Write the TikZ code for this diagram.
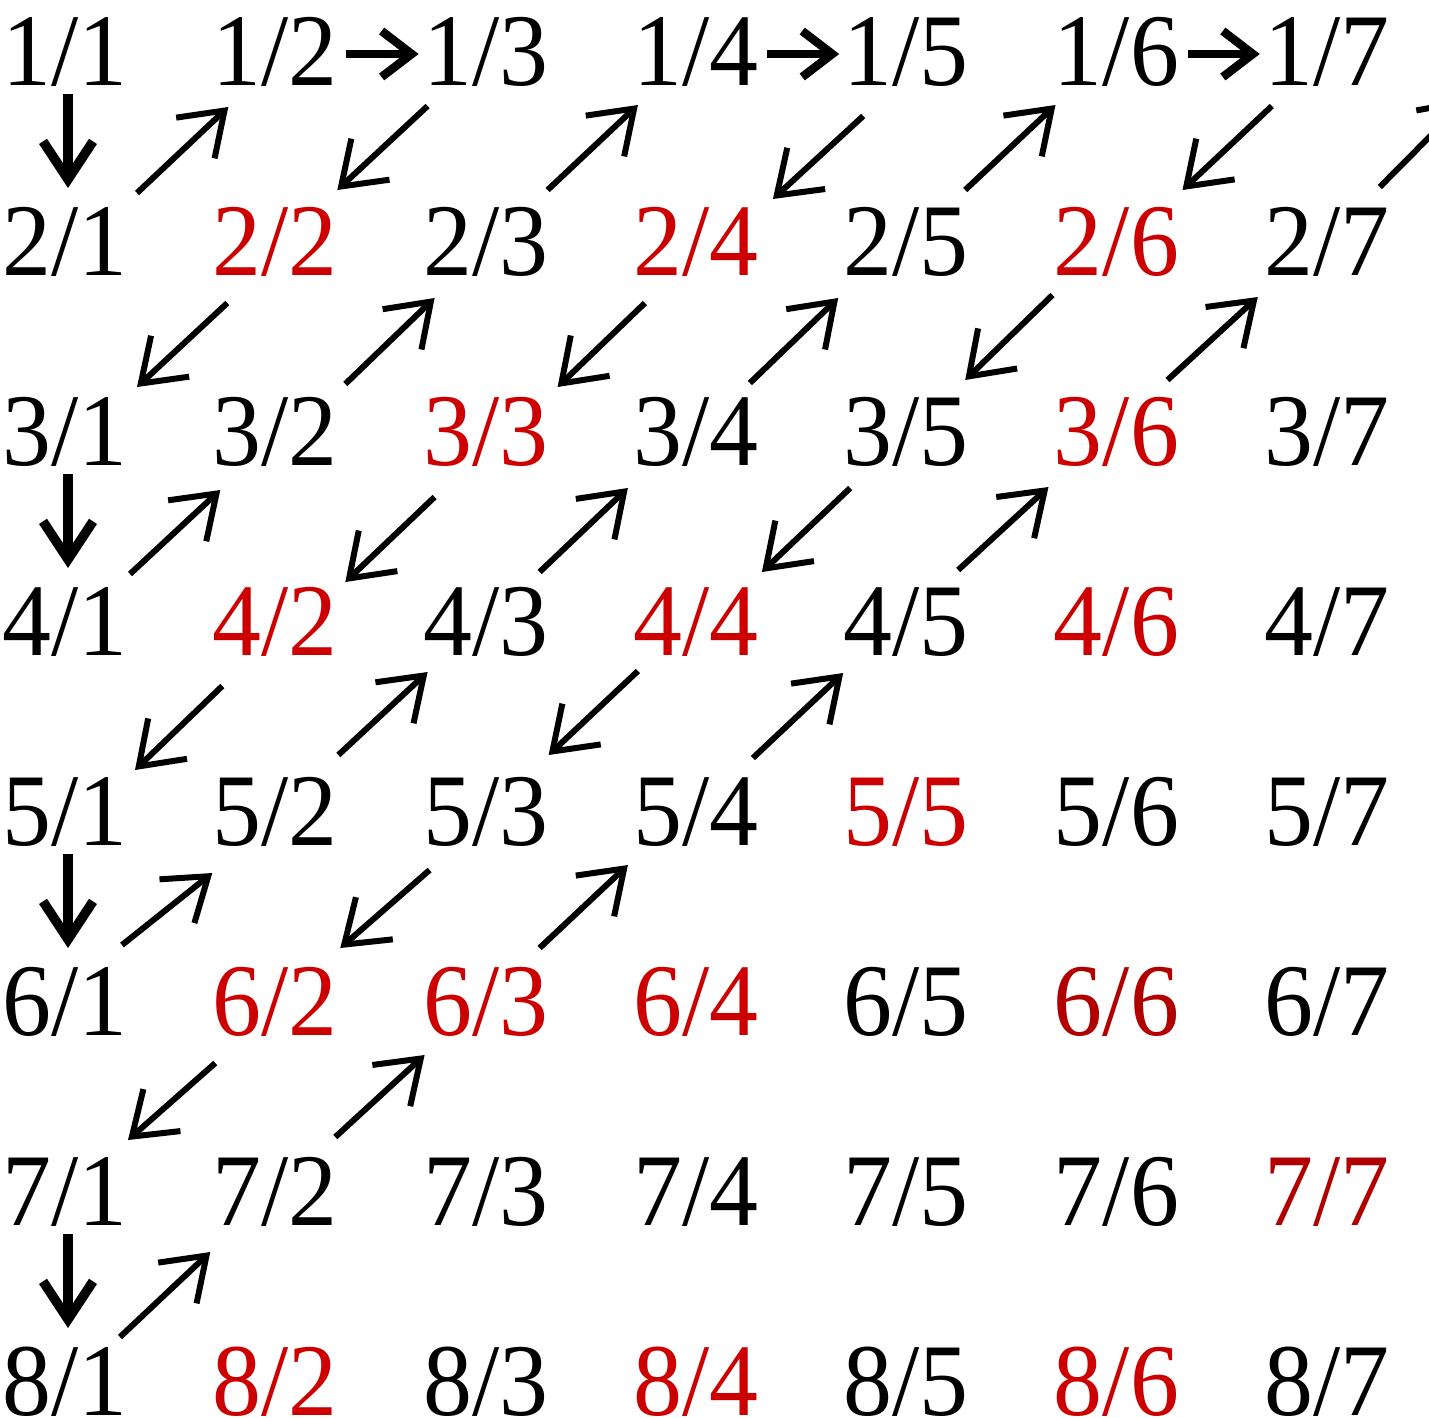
\documentclass[tikz,border=0pt]{standalone}
\usepackage{fontspec}
\setmainfont{Liberation Serif}[FakeStretch=0.95]
\usetikzlibrary{arrows.meta,calc}
\definecolor{rd}{RGB}{204,0,0}
\definecolor{drd}{RGB}{176,0,0}
\newcommand\cellfont{\fontsize{103}{120}\selectfont}
\tikzset{
  cell/.style={anchor=base, inner sep=0pt, font=\cellfont},
  diag/.style={line width=6pt, -{Straight Barb[sharp, length=40pt, width=56pt]}},
  harrow/.style={line width=8.5pt, -{Straight Barb[sharp, length=30pt, width=46pt]}},
  varrow/.style={line width=9.5pt, -{Straight Barb[sharp, length=38pt, width=50pt]}},
}
\begin{document}
\begin{tikzpicture}[x=1pt,y=-1pt]
\useasboundingbox (0,0) rectangle (1429,1417);
\clip (0,0) rectangle (1429,1417);
% grid of fractions
\foreach \r in {1,...,8}{
  \foreach \c in {1,...,7}{
    \pgfmathtruncatemacro{\g}{gcd(\r,\c)}
    \ifnum\g>1 \def\tc{rd}\else\def\tc{black}\fi
    \ifnum\r=6 \ifnum\c=6 \def\tc{drd}\fi\fi
    \ifnum\r=7 \ifnum\c=7 \def\tc{drd}\fi\fi
    \node[cell, text=\tc] (n\r\c) at ({65+210.3*(\c-1)}, {85+190*(\r-1)}) {\r/\c};
  }
}
% horizontal arrows in row 1
\draw[harrow] ($(n12.base)+(71,-31)$) -- ($(n13.base)+(-67,-31)$);
\draw[harrow] ($(n14.base)+(71,-31)$) -- ($(n15.base)+(-67,-31)$);
\draw[harrow] ($(n16.base)+(71,-31)$) -- ($(n17.base)+(-67,-31)$);
% down arrows in column 1
\draw[varrow] ($(n11.base)+(3,9)$) -- ($(n21.base)+(3,-87)$);
\draw[varrow] ($(n31.base)+(3,9)$) -- ($(n41.base)+(3,-87)$);
\draw[varrow] ($(n51.base)+(3,9)$) -- ($(n61.base)+(3,-87)$);
\draw[varrow] ($(n71.base)+(3,9)$) -- ($(n81.base)+(3,-87)$);
% diagonal arrows, rows 1-2
\draw[diag] ($(n21.base)+(72,-82)$) -- ($(n12.base)+(-47,22)$);
\draw[diag] ($(n13.base)+(-58,21)$) -- ($(n22.base)+(62,-85)$);
\draw[diag] ($(n23.base)+(62,-85)$) -- ($(n14.base)+(-58,20)$);
\draw[diag] ($(n15.base)+(-43,31)$) -- ($(n24.base)+(77,-76)$);
\draw[diag] ($(n25.base)+(59,-85)$) -- ($(n16.base)+(-61,20)$);
\draw[diag] ($(n17.base)+(-55,21)$) -- ($(n26.base)+(66,-85)$);
\coordinate (off) at (1468,98);
\draw[diag] ($(n27.base)+(53,-88)$) -- (off);
% rows 2-3
\draw[diag] ($(n22.base)+(-48,28)$) -- ($(n31.base)+(72,-78)$);
\draw[diag] ($(n32.base)+(70,-81)$) -- ($(n23.base)+(-51,23)$);
\draw[diag] ($(n24.base)+(-51,28)$) -- ($(n33.base)+(72,-78)$);
\draw[diag] ($(n34.base)+(54,-82)$) -- ($(n25.base)+(-68,23)$);
\draw[diag] ($(n26.base)+(-64,20)$) -- ($(n35.base)+(59,-85)$);
\draw[diag] ($(n36.base)+(51,-85)$) -- ($(n27.base)+(-69,22)$);
% rows 3-4
\draw[diag] ($(n41.base)+(65,-81)$) -- ($(n32.base)+(-55,25)$);
\draw[diag] ($(n33.base)+(-51,32)$) -- ($(n42.base)+(70,-73)$);
\draw[diag] ($(n43.base)+(54,-83)$) -- ($(n34.base)+(-68,23)$);
\draw[diag] ($(n35.base)+(-56,23)$) -- ($(n44.base)+(66,-83)$);
\draw[diag] ($(n45.base)+(52,-85)$) -- ($(n36.base)+(-68,22)$);
% rows 4-5
\draw[diag] ($(n42.base)+(-53,31)$) -- ($(n51.base)+(70,-75)$);
\draw[diag] ($(n52.base)+(63,-90)$) -- ($(n43.base)+(-58,17)$);
\draw[diag] ($(n44.base)+(-58,16)$) -- ($(n53.base)+(63,-90)$);
\draw[diag] ($(n54.base)+(57,-87)$) -- ($(n45.base)+(-63,18)$);
% rows 5-6
\draw[diag] ($(n61.base)+(57,-90)$) -- ($(n52.base)+(-63,28)$);
\draw[diag] ($(n53.base)+(-56,25)$) -- ($(n62.base)+(65,-87)$);
\draw[diag] ($(n63.base)+(54,-87)$) -- ($(n54.base)+(-68,20)$);
% rows 6-7
\draw[diag] ($(n62.base)+(-60,28)$) -- ($(n71.base)+(63,-85)$);
\draw[diag] ($(n72.base)+(60,-88)$) -- ($(n63.base)+(-61,20)$);
% rows 7-8
\draw[diag] ($(n81.base)+(55,-78)$) -- ($(n72.base)+(-65,27)$);
\end{tikzpicture}
\end{document}
